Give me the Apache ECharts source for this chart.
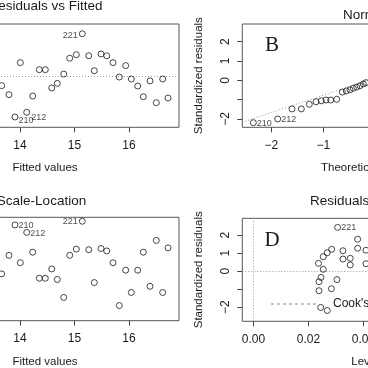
<!DOCTYPE html>
<html><head><meta charset="utf-8">
<script src="https://cdn.jsdelivr.net/npm/echarts@6/dist/echarts.min.js"></script>
<style>html,body{margin:0;padding:0;background:#fff}#c{width:368px;height:368px}</style>
</head><body><div id="c"></div>
<script>
// ---------- data ----------
// Panel A / C: fitted values (shared x)
const fitted = [13.664,13.798,13.908,14.006,14.123,14.233,14.354,14.464,14.582,14.684,14.802,14.912,15.033,15.143,15.261,15.363,15.486,15.591,15.706,15.822,15.939,16.042,16.160,16.262,16.385,16.501,16.618,16.716];
// Panel A: residuals
const residA = [-0.51,-1.02,-2.29,0.80,-2.02,-1.10,0.40,0.40,-0.64,-0.38,0.15,1.05,1.25,2.44,1.19,0.34,1.29,1.19,0.80,-0.02,0.63,-0.13,-0.53,-1.14,-0.24,-1.48,-0.13,-1.21];
// Panel C: sqrt(|standardized residuals|)
const sqrtResC = [0.70,1.00,1.49,0.88,1.37,1.05,0.63,0.63,0.78,0.61,0.32,1.00,1.10,1.55,1.09,0.56,1.11,1.07,0.88,0.19,0.76,0.40,0.76,1.05,0.50,1.24,0.40,1.12];
const idsAC = {2:'210', 4:'212', 13:'221'};
// Panel B: normal Q-Q
const theoQ = [-2.346,-1.877,-1.602,-1.423,-1.269,-1.140,-1.038,-0.948,-0.858,-0.742,-0.635,-0.558,-0.487,-0.423,-0.358,-0.294,-0.231,-0.179];
const stdResB = [-2.19,-2.00,-1.48,-1.48,-1.24,-1.11,-1.06,-1.02,-1.02,-0.98,-0.61,-0.55,-0.49,-0.41,-0.35,-0.28,-0.19,-0.12];
const idsB = {0:'210', 1:'212'};
const qqLineX = [-2.558, 2.558];
const qqLineY = [-2.17, 2.42];
// Panel D: residuals vs leverage
const leverage = [0.03062,0.03789,0.02844,0.02684,0.02538,0.03255,0.03789,0.04091,0.03255,0.03520,0.03520,0.04091,0.02364,0.02538,0.02455,0.02382,0.03036,0.02382,0.02836,0.02444,0.02684];
const stdResD = [2.44,1.78,1.22,1.03,0.81,1.14,1.28,1.17,0.68,0.72,0.35,0.42,0.44,0.11,-0.34,-0.58,-0.46,-1.08,-0.97,-2.01,-2.18];
const idsD = {0:'221'};
// ticks
const ticksFitted = [13,14,15,16];
const ticksQ = [-2,-1,0,1,2];
const ticksStd = [-2,-1,0,1,2];
const labelsStd = [-2,0,1,2];
const ticksLev = [0,0.02,0.04,0.06,0.08];
const ticksSqrt = [0.0,0.4,0.8,1.2];
const titles = ['Residuals vs Fitted', 'Normal Q-Q', 'Scale-Location', 'Residuals vs Leverage'];

// ---------- chart ----------
const FONT = 'Liberation Sans';
const INK = '#1a1a1a';
const minus = v => String(v).replace('-', '\u2212');

function pts(xs, ys, ids, labelCfg) {
  return xs.map((x, i) => {
    const item = {value: [x, ys[i]]};
    if (ids[i]) {
      const c = labelCfg[ids[i]];
      item.label = {show: true, formatter: ids[i], position: c.pos, distance: c.dist, offset: c.off,
        fontSize: 9, fontFamily: FONT, color: INK};
    }
    return item;
  });
}
function scatter(idx, data) {
  return {type: 'scatter', xAxisIndex: idx, yAxisIndex: idx, data, symbol: 'circle', symbolSize: 6,
    itemStyle: {color: 'rgba(0,0,0,0)', borderColor: INK, borderWidth: 1}, silent: true, z: 5};
}
function xAx(idx, min, max, ticks, name, fmt) {
  return {type: 'value', gridIndex: idx, min, max, position: 'bottom',
    axisLine: {show: false, onZero: false}, splitLine: {show: false},
    axisTick: {show: true, length: 5, customValues: ticks, lineStyle: {color: '#444'}},
    axisLabel: {customValues: ticks, margin: 12, fontSize: 12, fontFamily: FONT, color: INK, formatter: fmt},
    name, nameLocation: 'middle', nameGap: 35, nameMoveOverlap: false,
    nameTextStyle: {fontSize: 11.5, fontFamily: FONT, color: INK}};
}
function yAx(idx, min, max, ticks, labels, name, fmt) {
  return {type: 'value', gridIndex: idx, min, max, position: 'left',
    axisLine: {show: false, onZero: false}, splitLine: {show: false},
    axisTick: {show: true, length: 5, customValues: ticks, lineStyle: {color: '#444'}},
    axisLabel: {customValues: labels, rotate: 90, margin: 11, fontSize: 12, fontFamily: FONT, color: INK, formatter: fmt},
    name, nameLocation: 'middle', nameGap: 37, nameRotate: 90, nameMoveOverlap: false,
    nameTextStyle: {fontSize: 11.5, fontFamily: FONT, color: INK}};
}
function titleText(text, x, y, align) {
  return {type: 'text', x, y, silent: true,
    style: {text, fontSize: 13.5, fontFamily: FONT, fill: INK, align, verticalAlign: 'middle'}};
}
const gridBase = {show: true, borderColor: '#555', borderWidth: 1, backgroundColor: 'rgba(0,0,0,0)', outerBoundsMode: 'none', containLabel: false};
const dotted = {color: '#999', width: 1, type: [1, 2]};
const dashIcon = 'path://M0,0h3v1h-3zM6,0h3v1h-3zM12,0h3v1h-3zM18,0h3v1h-3zM24,0h3v1h-3zM30,0h3v1h-3zM36,0h3v1h-3zM42,0h3v1h-3z';

const option = {
  animation: false,
  backgroundColor: '#fff',
  textStyle: {fontFamily: FONT},
  title: [
    {text: 'B', left: 260, top: 30, textStyle: {fontSize: 21, fontWeight: 'normal', color: INK, fontFamily: 'Liberation Serif'}},
    {text: 'D', left: 259.5, top: 225, textStyle: {fontSize: 21, fontWeight: 'normal', color: INK, fontFamily: 'Liberation Serif'}}
  ],
  graphic: [
    titleText(titles[0], 45.5, 6, 'center'),
    titleText(titles[1], 343, 15, 'left'),
    titleText(titles[2], 41.5, 201.3, 'center'),
    titleText(titles[3], 310, 201, 'left')
  ],
  legend: {
    data: ["Cook's distance"], left: 266, top: 293, itemWidth: 45, itemHeight: 1, itemGap: 0,
    icon: dashIcon, selectedMode: false, itemStyle: {color: '#888'},
    textStyle: {fontSize: 12, fontFamily: FONT, color: INK, padding: [0, 0, 0, 12]}
  },
  grid: [
    Object.assign({left: -89, top: 24, width: 268, height: 103.3}, gridBase),
    Object.assign({left: 242.3, top: 24, width: 266, height: 103.3}, gridBase),
    Object.assign({left: -89, top: 217.3, width: 268, height: 103.4}, gridBase),
    Object.assign({left: 242.3, top: 218.3, width: 266, height: 103}, gridBase)
  ],
  xAxis: [
    xAx(0, 12, 16.917, ticksFitted, 'Fitted values', v => String(v)),
    xAx(1, -2.558, 2.558, ticksQ, 'Theoretical Quantiles', v => minus(v)),
    xAx(2, 12, 16.917, ticksFitted, 'Fitted values', v => String(v)),
    xAx(3, -0.00407, 0.0927, ticksLev, 'Leverage', v => v.toFixed(2))
  ],
  yAxis: [
    yAx(0, -2.875, 2.994, ticksStd, ticksStd, 'Residuals', v => minus(v)),
    yAx(1, -2.431, 2.913, ticksStd, labelsStd, 'Standardized residuals', v => minus(v)),
    yAx(2, -0.055, 1.613, ticksSqrt, ticksSqrt, '\u221A|Standardized residuals|', v => v.toFixed(1)),
    yAx(3, -2.78, 2.944, ticksStd, labelsStd, 'Standardized residuals', v => minus(v))
  ],
  series: [
    Object.assign(scatter(0, pts(fitted, residA, idsAC, {
      '210': {pos: 'right', dist: 0, off: [0, 4]},
      '212': {pos: 'right', dist: 1, off: [0, 5]},
      '221': {pos: 'left', dist: 1, off: [0, 1.5]}})), {
      markLine: {silent: true, symbol: 'none', label: {show: false}, lineStyle: dotted, data: [{yAxis: 0}]}
    }),
    scatter(1, pts(theoQ, stdResB, idsB, {
      '210': {pos: 'right', dist: 0, off: [0, 1]},
      '212': {pos: 'right', dist: 0, off: [0, 1]}})),
    {type: 'line', xAxisIndex: 1, yAxisIndex: 1, data: qqLineX.map((x, i) => [x, qqLineY[i]]),
      symbol: 'none', lineStyle: dotted, silent: true, z: 2},
    scatter(2, pts(fitted, sqrtResC, idsAC, {
      '210': {pos: 'right', dist: 0, off: [0, 1]},
      '212': {pos: 'right', dist: 0, off: [0, 1]},
      '221': {pos: 'left', dist: 1, off: [0, 0.5]}})),
    Object.assign(scatter(3, pts(leverage, stdResD, idsD, {
      '221': {pos: 'right', dist: 0, off: [0, 0.5]}})), {
      markLine: {silent: true, symbol: 'none', label: {show: false}, lineStyle: dotted, data: [{yAxis: 0}, {xAxis: 0}]}
    }),
    {type: 'line', name: "Cook's distance", xAxisIndex: 3, yAxisIndex: 3, data: [], symbol: 'none',
      itemStyle: {color: '#888'}, lineStyle: {color: '#888', width: 1, type: [3, 3]}}
  ]
};
const chart = echarts.init(document.getElementById('c'), null, {renderer: 'canvas'});
chart.setOption(option);
</script></body></html>
